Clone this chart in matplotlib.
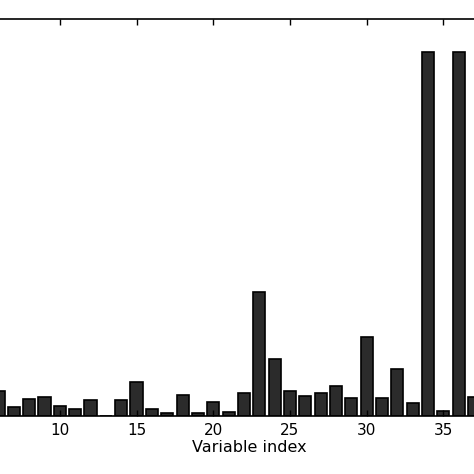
import numpy as np
import matplotlib
matplotlib.use('Agg')
import matplotlib.pyplot as plt

# variable index and bar heights
variables = list(range(6, 38))
values = [0.76, 0.27, 0.50, 0.56, 0.29, 0.20, 0.48, 0.0,
          0.48, 1.03, 0.20, 0.09, 0.63, 0.09, 0.42, 0.12,
          0.69, 3.75, 1.71, 0.76, 0.60, 0.70, 0.90, 0.53,
          2.39, 0.54, 1.40, 0.39, 11.01, 0.13, 11.01, 0.56]
xticks = [10, 15, 20, 25, 30, 35]

plt.rcParams['font.family'] = ['DejaVu Sans']

fig = plt.figure(figsize=(4.74, 4.74), dpi=100)
ax = fig.add_axes([0.0, 0.123, 1.0, 0.837])

ax.bar(variables, values, width=0.8, color='#2b2b2b', edgecolor='black', linewidth=1.2)

ax.set_xlim(6.09, 37.0)
ax.set_ylim(0, 12)
ax.set_xticks(xticks)
ax.set_xticklabels([str(t) for t in xticks], fontsize=11)
ax.set_yticks([])
ax.tick_params(axis='x', direction='in', top=True, length=4, width=1, pad=5)
for side in ['top', 'bottom']:
    ax.spines[side].set_linewidth(1.2)
ax.spines['left'].set_visible(False)
ax.spines['right'].set_visible(False)

ax.set_xlabel('Variable index', fontsize=11.5)
ax.xaxis.set_label_coords(0.527, -0.06)

fig.savefig('out.png', dpi=100)
